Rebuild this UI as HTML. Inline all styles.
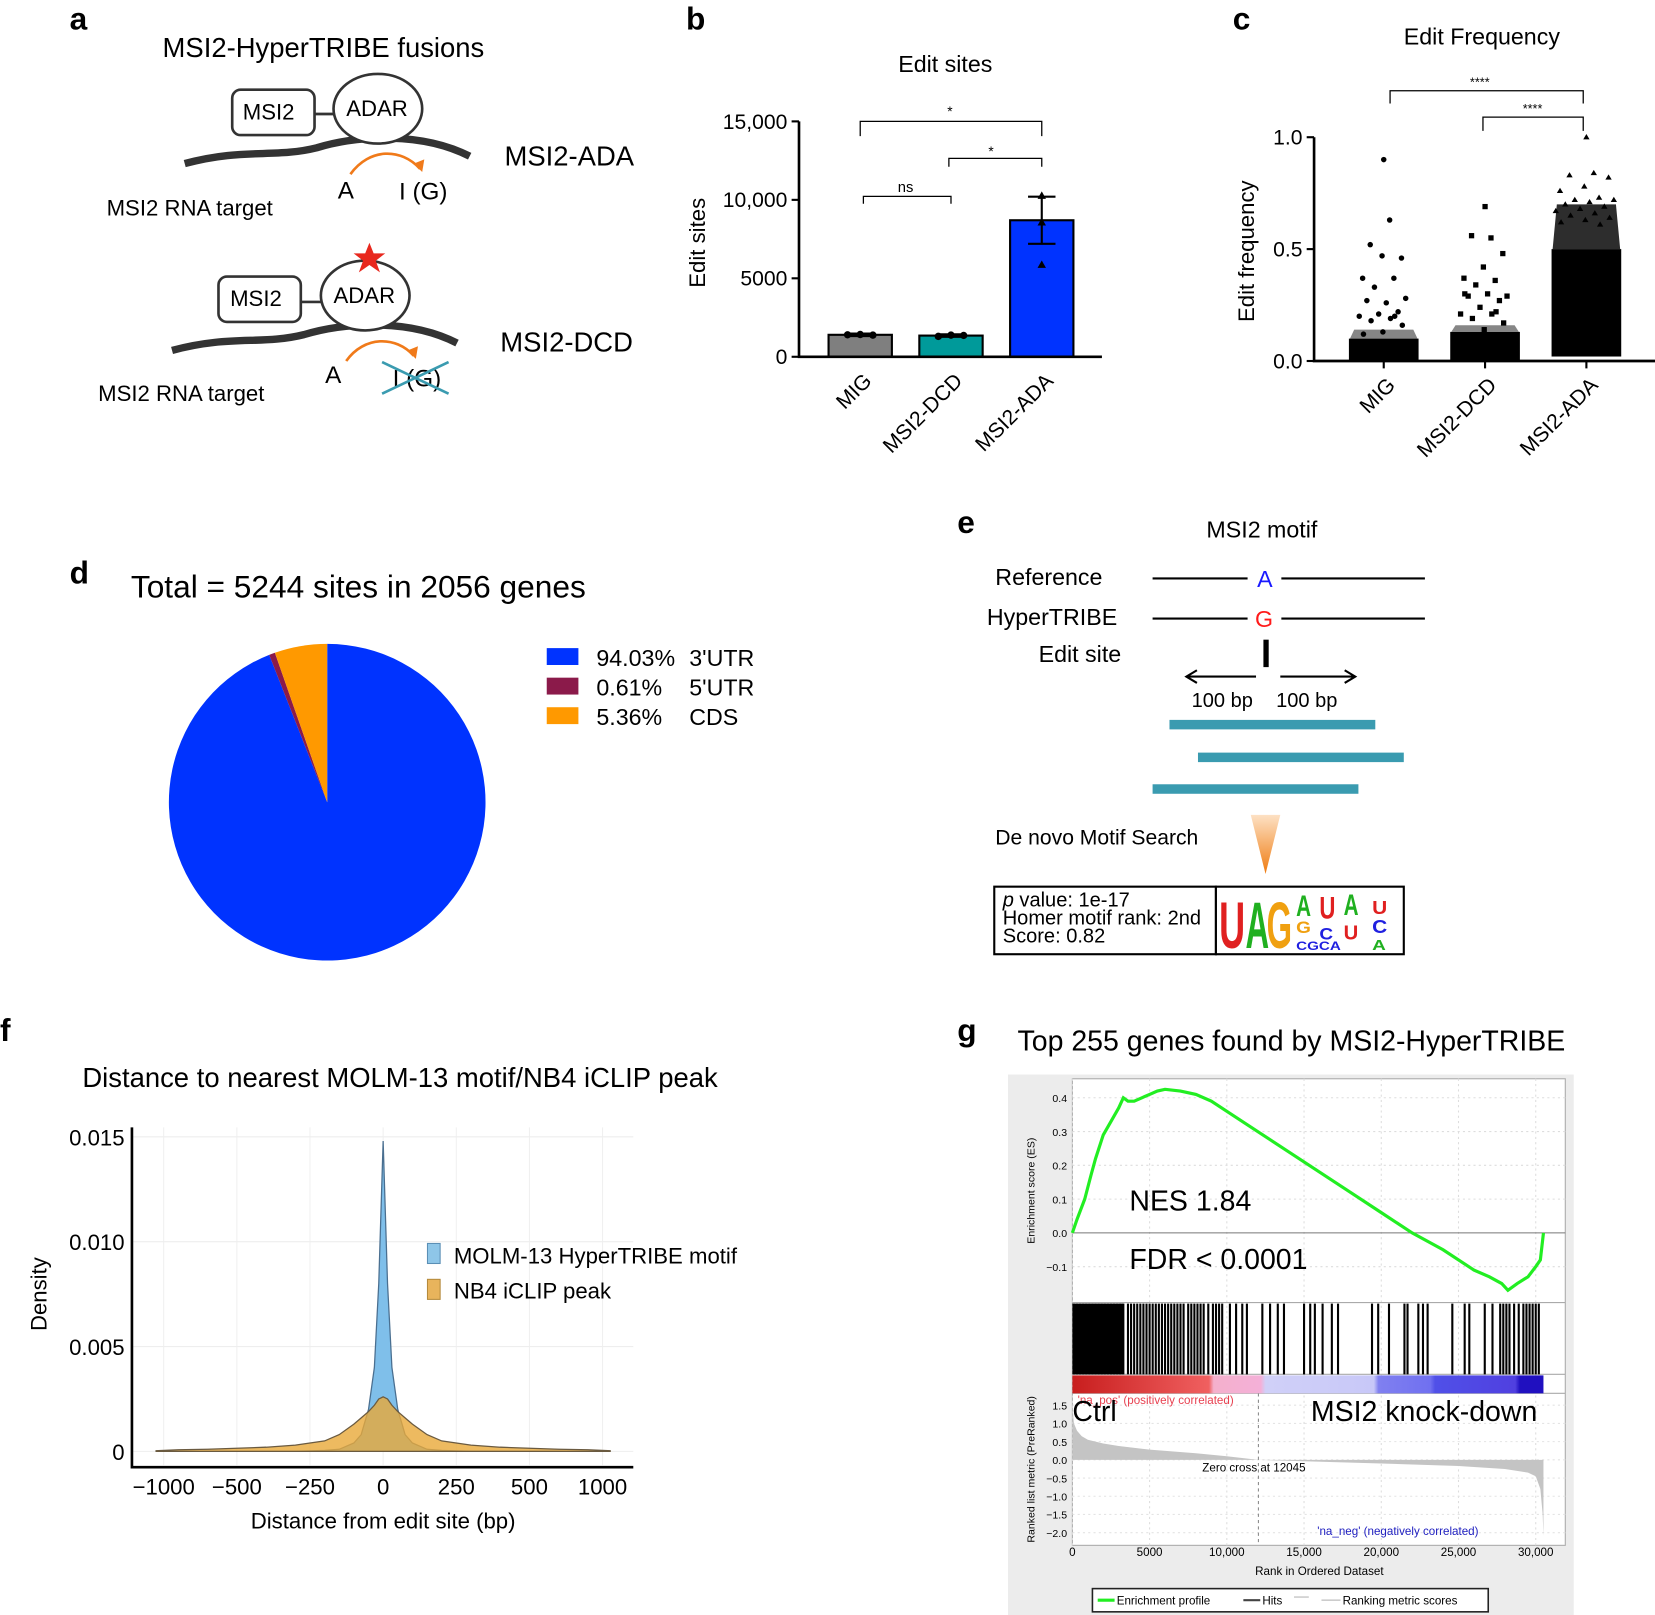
<!DOCTYPE html>
<html><head><meta charset="utf-8"><style>
html,body{margin:0;padding:0;background:#fff;}
svg{display:block;font-family:"Liberation Sans",Arial,sans-serif;}
</style></head><body>
<svg id="fig" width="1655" height="1615" viewBox="0 0 1568 1530" preserveAspectRatio="none" xmlns="http://www.w3.org/2000/svg">
<defs><linearGradient id="tri" x1="0" y1="0" x2="0" y2="1"><stop offset="0" stop-color="#fde1c4"/><stop offset="1" stop-color="#ef7b10"/></linearGradient></defs>
<g>
<text x="66" y="28" font-size="30" font-weight="bold">a</text>
<text x="154" y="54" font-size="26">MSI2-HyperTRIBE fusions</text>
<path d="M175 155 C230 140 260 150 300 140 C340 128 400 125 445 148" fill="none" stroke="#333" stroke-width="7"/>
<path d="M298 108 L318 108" stroke="#333" stroke-width="2.5"/>
<rect x="220" y="85" width="78" height="43" rx="8" fill="#fff" stroke="#333" stroke-width="2.5"/>
<text x="230" y="113" font-size="21">MSI2</text>
<ellipse cx="358" cy="103" rx="42" ry="33" fill="#fff" stroke="#333" stroke-width="2.5"/>
<text x="328" y="110" font-size="21">ADAR</text>
<path d="M332 165 C350 140 380 140 398 160" fill="none" stroke="#f07a1a" stroke-width="2.5"/>
<path d="M392 155 L400 163 L402 151 Z" fill="#f07a1a"/>
<text x="320" y="188" font-size="23">A</text>
<text x="378" y="189" font-size="23">I (G)</text>
<text x="101" y="204" font-size="21">MSI2 RNA target</text>
<text x="478" y="157" font-size="26">MSI2-ADA</text>
<path d="M163 332 C218 317 248 327 288 317 C328 305 388 302 433 325" fill="none" stroke="#333" stroke-width="7"/>
<path d="M286 286 L306 286" stroke="#333" stroke-width="2.5"/>
<rect x="207" y="262" width="78" height="43" rx="8" fill="#fff" stroke="#333" stroke-width="2.5"/>
<text x="218" y="290" font-size="21">MSI2</text>
<ellipse cx="346" cy="280" rx="42" ry="33" fill="#fff" stroke="#333" stroke-width="2.5"/>
<text x="316" y="287" font-size="21">ADAR</text>
<polygon points="350,230 354,240 365,240 356,247 360,258 350,251 340,258 344,247 335,240 346,240" fill="#e8281e"/>
<path d="M328 342 C345 318 375 318 392 337" fill="none" stroke="#f07a1a" stroke-width="2.5"/>
<path d="M386 332 L394 340 L396 328 Z" fill="#f07a1a"/>
<text x="308" y="363" font-size="23">A</text>
<text x="372" y="366" font-size="23">I (G)</text>
<path d="M362 343 L425 373 M362 373 L425 343" stroke="#3a9bb0" stroke-width="2.5"/>
<text x="93" y="380" font-size="21">MSI2 RNA target</text>
<text x="474" y="333" font-size="26">MSI2-DCD</text>
</g>
<g id="pb">
<text x="650" y="28" font-size="30" font-weight="bold">b</text>
<text x="851" y="68" font-size="22">Edit sites</text>
<text transform="translate(668,230) rotate(-90)" font-size="21" text-anchor="middle">Edit sites</text>
</g>
<g id="pc">
<text x="1168" y="28" font-size="30" font-weight="bold">c</text>
<text x="1330" y="42" font-size="22">Edit Frequency</text>
<text transform="translate(1188,238) rotate(-90)" font-size="21" text-anchor="middle">Edit frequency</text>
</g>
<g id="pd">
<text x="66" y="553" font-size="30" font-weight="bold">d</text>
<text x="124" y="566" font-size="30">Total = 5244 sites in 2056 genes</text>
</g>
<g>
<text x="907" y="505" font-size="30" font-weight="bold">e</text>
<text x="1143" y="509" font-size="22">MSI2 motif</text>
<text x="943" y="554" font-size="22">Reference</text>
<text x="935" y="592" font-size="22">HyperTRIBE</text>
<text x="984" y="627" font-size="22">Edit site</text>
<line x1="1092" y1="548" x2="1182" y2="548" stroke="#000" stroke-width="2"/>
<line x1="1214" y1="548" x2="1350" y2="548" stroke="#000" stroke-width="2"/>
<text x="1191" y="556" font-size="22" fill="#1a1aff">A</text>
<line x1="1092" y1="586" x2="1182" y2="586" stroke="#000" stroke-width="2"/>
<line x1="1214" y1="586" x2="1350" y2="586" stroke="#000" stroke-width="2"/>
<text x="1189" y="594" font-size="22" fill="#ff1a1a">G</text>
<rect x="1197" y="606" width="5" height="26" fill="#000"/>
<path d="M1190 641 L1125 641 M1134 635 L1124 641 L1134 647" stroke="#000" stroke-width="2" fill="none"/>
<path d="M1213 641 L1283 641 M1274 635 L1284 641 L1274 647" stroke="#000" stroke-width="2" fill="none"/>
<text x="1129" y="670" font-size="19">100 bp</text>
<text x="1209" y="670" font-size="19">100 bp</text>
<rect x="1108" y="682" width="195" height="9" fill="#3a9bb0"/>
<rect x="1135" y="713" width="195" height="9" fill="#3a9bb0"/>
<rect x="1092" y="743" width="195" height="9" fill="#3a9bb0"/>
<polygon points="1185,772 1213,772 1199,828" fill="url(#tri)"/>
<text x="943" y="800" font-size="20">De novo Motif Search</text>
<rect x="942" y="840" width="210" height="64" fill="#fff" stroke="#000" stroke-width="2"/>
<rect x="1152" y="840" width="178" height="64" fill="#fff" stroke="#000" stroke-width="2"/>
<text x="950" y="859" font-size="19"><tspan font-style="italic">p</tspan> value: 1e-17</text>
<text x="950" y="876" font-size="19">Homer motif rank: 2nd</text>
<text x="950" y="893" font-size="19">Score: 0.82</text>
<g font-weight="bold">
<text x="1155" y="898" font-size="62" fill="#e02020" transform="translate(1155,898) scale(0.55,1) translate(-1155,-898)">U</text>
<text x="1180" y="898" font-size="62" fill="#20b020" transform="translate(1180,898) scale(0.5,1) translate(-1180,-898)">A</text>
<text x="1200" y="898" font-size="62" fill="#f0a010" transform="translate(1200,898) scale(0.5,1) translate(-1200,-898)">G</text>
<text x="1228" y="868" font-size="28" fill="#20b020" transform="translate(1228,868) scale(0.7,1) translate(-1228,-868)">A</text>
<text x="1228" y="884" font-size="20" fill="#f0a010" transform="translate(1228,884) scale(0.9,0.8) translate(-1228,-884)">G</text>
<text x="1250" y="870" font-size="30" fill="#e02020" transform="translate(1250,870) scale(0.7,1) translate(-1250,-870)">U</text>
<text x="1250" y="890" font-size="20" fill="#2020e0" transform="translate(1250,890) scale(0.9,0.8) translate(-1250,-890)">C</text>
<text x="1273" y="867" font-size="28" fill="#20b020" transform="translate(1273,867) scale(0.7,1) translate(-1273,-867)">A</text>
<text x="1273" y="890" font-size="24" fill="#e02020" transform="translate(1273,890) scale(0.8,0.8) translate(-1273,-890)">U</text>
<text x="1300" y="866" font-size="22" fill="#e02020" transform="translate(1300,866) scale(0.9,0.8) translate(-1300,-866)">U</text>
<text x="1300" y="884" font-size="22" fill="#2020e0" transform="translate(1300,884) scale(0.9,0.8) translate(-1300,-884)">C</text>
<text x="1300" y="900" font-size="18" fill="#20b020" transform="translate(1300,900) scale(1,0.8) translate(-1300,-900)">A</text>
<text x="1228" y="900" font-size="16" fill="#2020e0" transform="translate(1228,900) scale(0.9,0.7) translate(-1228,-900)">CGCA</text>
</g>
</g>
<g id="pf">
<text x="0" y="986" font-size="30" font-weight="bold">f</text>
<text x="78" y="1030" font-size="26">Distance to nearest MOLM-13 motif/NB4 iCLIP peak</text>
<text transform="translate(44,1226) rotate(-90)" font-size="21" text-anchor="middle">Density</text>
<text x="363" y="1448" font-size="21" text-anchor="middle">Distance from edit site (bp)</text>
</g>
<g id="pg">
<text x="907" y="986" font-size="30" font-weight="bold">g</text>
<text x="964" y="995" font-size="27">Top 255 genes found by MSI2-HyperTRIBE</text>
<rect x="955" y="1018" width="536" height="512" fill="#ececec"/>
<rect x="1016" y="1022" width="467" height="442" fill="#fff" stroke="#aaa" stroke-width="1"/>
</g>
</svg>
<script>
var svg=document.getElementById('fig');var NS='http://www.w3.org/2000/svg';
function mk(parent,tag,attrs,text){var e=document.createElementNS(NS,tag);for(var k in attrs)e.setAttribute(k,attrs[k]);if(text!==undefined)e.textContent=text;parent.appendChild(e);return e;}

/* ---------- Panel b data ---------- */
var bCategories=['MIG','MSI2-DCD','MSI2-ADA'];
var bValues=[1400,1350,8700];
var bErr=[80,80,1500];
var bPoints=[[1400,1420,1380],[1300,1380,1360],[10200,8500,5800]];
var bColors=['#7f7f7f','#009a9a','#0033ff'];
var bTicks=[0,5000,10000,15000];
var bTickLabels=['0','5000','10,000','15,000'];
/* ---------- Panel c data ---------- */
var cCategories=['MIG','MSI2-DCD','MSI2-ADA'];
var cDenseTop=[0.1,0.13,0.5];
var cMidTop=[0.14,0.16,0.7];
var cDenseBottom=[0,0,0.02];
var cOutliers=[[0.9,0.63,0.52,0.46,0.47,0.37,0.37,0.33,0.28,0.26,0.27,0.22,0.21,0.2,0.19,0.18,0.16,0.13,0.12,0.2],
[0.69,0.55,0.56,0.48,0.42,0.37,0.36,0.34,0.29,0.3,0.29,0.27,0.24,0.21,0.21,0.19,0.17,0.14,0.3,0.22],
[1.0,0.84,0.83,0.82,0.78,0.76,0.73,0.72,0.72,0.71,0.7,0.69,0.68,0.67,0.66,0.65,0.64,0.63,0.62,0.61]];
var cTicks=[0,0.5,1.0];var cTickLabels=['0.0','0.5','1.0'];
/* ---------- Panel d data ---------- */
var dLabels=["3'UTR","5'UTR","CDS"];
var dValues=[94.03,0.61,5.36];
var dColors=['#0033ff','#8b1a4a','#ff9900'];
/* ---------- Panel f data ---------- */
var fX=[-776,-700,-600,-500,-400,-300,-200,-150,-100,-75,-50,-30,-15,0,15,30,50,75,100,150,200,300,400,500,600,700,776];
var fMolm=[0,0,0,0,0,0,0.00005,0.0001,0.0004,0.0008,0.002,0.004,0.008,0.0148,0.008,0.004,0.002,0.0008,0.0004,0.0001,0.00005,0,0,0,0,0,0];
var fNB4=[0.00003,0.00008,0.0001,0.00015,0.0002,0.0003,0.0005,0.0008,0.0013,0.0016,0.0019,0.0022,0.0025,0.0026,0.0025,0.0022,0.0019,0.0016,0.0013,0.0008,0.0005,0.0003,0.0002,0.00015,0.0001,0.00008,0.00003];
var fXTicks=[-750,-500,-250,0,250,500,750];
var fXTickLabels=['\u22121000','\u2212500','\u2212250','0','250','500','1000'];
var fYTicks=[0,0.005,0.010,0.015];var fYTickLabels=['0','0.005','0.010','0.015'];
/* ---------- Panel g data ---------- */
var gRank=[0,300,800,1200,1500,2000,2500,3000,3300,3600,4000,4500,5000,5500,6000,7000,8000,9000,10000,12000,14000,16000,18000,20000,22000,24000,26000,27000,27800,28200,28800,29500,30000,30300,30500];
var gES=[0,0.04,0.1,0.17,0.22,0.29,0.33,0.37,0.4,0.39,0.39,0.4,0.41,0.42,0.425,0.42,0.41,0.39,0.36,0.3,0.24,0.18,0.12,0.06,0.0,-0.05,-0.11,-0.13,-0.15,-0.17,-0.15,-0.13,-0.1,-0.08,0.0];
var gHits=[100,300,500,700,900,1100,1300,1500,1700,1900,2100,2300,2500,2700,2900,3100,3300,3600,3800,4000,4200,4400,4600,4800,5000,5200,5400,5600,5800,6000,6200,6400,6600,6800,7000,7200,7500,7700,7900,8100,8300,8500,8800,9100,9300,9500,9700,10200,10600,11000,11300,12300,12800,13300,13700,15000,15400,15700,16200,16800,17200,19400,19800,20500,21500,21700,22400,22700,23000,24600,25400,25700,26700,27200,27700,27900,28100,28300,28600,28900,29200,29400,29600,29800,30000,30200];
var gMetricRank=[0,100,300,600,1000,2000,3000,5000,8000,10000,12045,15000,20000,25000,28000,29500,30000,30300,30450,30500];
var gMetric=[1.5,1.0,0.8,0.65,0.55,0.45,0.38,0.28,0.18,0.1,0,-0.04,-0.1,-0.17,-0.25,-0.35,-0.45,-0.8,-1.5,-2.1];
var gESTicks=[-0.1,0,0.1,0.2,0.3,0.4];var gESTickLabels=['\u22120.1','0.0','0.1','0.2','0.3','0.4'];
var gMTicks=[1.5,1.0,0.5,0,-0.5,-1.0,-1.5,-2.0];var gMTickLabels=['1.5','1.0','0.5','0.0','\u22120.5','\u22121.0','\u22121.5','\u22122.0'];
var gXTicks=[0,5000,10000,15000,20000,25000,30000];var gXTickLabels=['0','5000','10,000','15,000','20,000','25,000','30,000'];

/* ===== draw b ===== */
(function(){var g=document.getElementById('pb');
function bx(i){return 815+i*86;}function by(v){return 338-v*(223/15000);}
for(var i=0;i<bTicks.length;i++){var y=by(bTicks[i]);
var t=mk(g,'line',{x1:750,y1:y,x2:757,y2:y,stroke:'#000','stroke-width':2});


var l=mk(g,'text',{x:746,y:y+7,'font-size':20,'text-anchor':'end'},bTickLabels[i]);

}
for(i=0;i<bValues.length;i++){var r=mk(g,'rect',{x:bx(i)-30,y:by(bValues[i]),width:60,height:338-by(bValues[i]),fill:bColors[i],stroke:'#000','stroke-width':2});


var e1=by(bValues[i]+bErr[i]),e2=by(bValues[i]-bErr[i]);
mk(g,'path',{d:'M'+bx(i)+' '+e1+' V'+e2+' M'+(bx(i)-13)+' '+e1+' h26 M'+(bx(i)-13)+' '+e2+' h26',stroke:'#000','stroke-width':2,fill:'none'});
for(var j=0;j<3;j++){var px=i<2?bx(i)-12+j*12:bx(i);var py=by(bPoints[i][j]);
if(i<2)mk(g,'circle',{cx:px,cy:py,r:3.5,fill:'#000'});else mk(g,'path',{d:'M'+px+' '+(py-5)+' l4 7 h-8z',fill:'#000'});}
var tl=mk(g,'text',{transform:'translate('+(bx(i)+12)+',362) rotate(-45)','font-size':20,'text-anchor':'end'},bCategories[i]);

}
mk(g,'path',{d:'M757 115 V338 H1044',stroke:'#000','stroke-width':2.5,fill:'none'});
mk(g,'path',{d:'M815 129 V115 H987 V129',stroke:'#000','stroke-width':1.2,fill:'none'});mk(g,'text',{x:900,y:110,'font-size':13,'text-anchor':'middle'},'*');
mk(g,'path',{d:'M899 158 V150 H987 V158',stroke:'#000','stroke-width':1.2,fill:'none'});mk(g,'text',{x:939,y:148,'font-size':13,'text-anchor':'middle'},'*');
mk(g,'path',{d:'M818 193 V186 H901 V193',stroke:'#000','stroke-width':1.2,fill:'none'});mk(g,'text',{x:858,y:182,'font-size':14,'text-anchor':'middle'},'ns');
})();

/* ===== draw c ===== */
(function(){var g=document.getElementById('pc');
function cx(i){return 1311+i*96;}function cy(v){return 342-v*212;}
for(var i=0;i<cTicks.length;i++){var y=cy(cTicks[i]);mk(g,'line',{x1:1238,y1:y,x2:1245,y2:y,stroke:'#000','stroke-width':2});
var l=mk(g,'text',{x:1234,y:y+7,'font-size':20,'text-anchor':'end'},cTickLabels[i]);

}
for(i=0;i<3;i++){var top=cy(cDenseTop[i]),bot=cy(cDenseBottom[i]);
var m=mk(g,'path',{d:'M'+(cx(i)-32)+' '+top+' L'+(cx(i)-28)+' '+cy(cMidTop[i])+' L'+(cx(i)+28)+' '+cy(cMidTop[i])+' L'+(cx(i)+32)+' '+top+'Z',fill:'#222',opacity:i===2?0.95:0.55});
var d=mk(g,'rect',{x:cx(i)-33,y:top,width:66,height:bot-top,fill:'#000'});


for(var j=0;j<cOutliers[i].length;j++){var off=((j*37)%60)-30;if(j===0)off=0;var py=cy(cOutliers[i][j]);var px=cx(i)+off*(i===2?1:0.8);
if(i===0)mk(g,'circle',{cx:px,cy:py,r:2.6,fill:'#000'});else if(i===1)mk(g,'rect',{x:px-2.5,y:py-2.5,width:5,height:5,fill:'#000'});else mk(g,'path',{d:'M'+px+' '+(py-3)+' l3 5 h-6z',fill:'#000'});}
var tl=mk(g,'text',{transform:'translate('+(cx(i)+12)+',366) rotate(-45)','font-size':20,'text-anchor':'end'},cCategories[i]);


mk(g,'line',{x1:cx(i),y1:342,x2:cx(i),y2:349,stroke:'#000','stroke-width':2});}
mk(g,'path',{d:'M1245 130 V342 H1568',stroke:'#000','stroke-width':2.5,fill:'none'});
mk(g,'path',{d:'M1317 98 V86 H1500 V98',stroke:'#000','stroke-width':1.2,fill:'none'});mk(g,'text',{x:1402,y:82,'font-size':12,'text-anchor':'middle'},'****');
mk(g,'path',{d:'M1405 124 V111 H1500 V124',stroke:'#000','stroke-width':1.2,fill:'none'});mk(g,'text',{x:1452,y:107,'font-size':12,'text-anchor':'middle'},'****');
})();

/* ===== draw d ===== */
(function(){var g=document.getElementById('pd');var cx=310,cy=760,R=150;var tot=0;for(var i=0;i<dValues.length;i++)tot+=dValues[i];
var a=-Math.PI/2;
for(i=0;i<dValues.length;i++){var a2=a+dValues[i]/tot*2*Math.PI;var large=(a2-a)>Math.PI?1:0;
var p=mk(g,'path',{d:'M'+cx+' '+cy+' L'+(cx+R*Math.cos(a))+' '+(cy+R*Math.sin(a))+' A'+R+' '+R+' 0 '+large+' 1 '+(cx+R*Math.cos(a2))+' '+(cy+R*Math.sin(a2))+' Z',fill:dColors[i]});


a=a2;
var ly=622+i*28;var lr=mk(g,'rect',{x:518,y:ly-8,width:30,height:16,fill:dColors[i]});


var lt=mk(g,'text',{x:565,y:ly+9,'font-size':22},dValues[i].toFixed(2)+'%');


var ln=mk(g,'text',{x:653,y:ly+9,'font-size':22},dLabels[i]);

}
})();

/* ===== draw f ===== */
(function(){var g=document.getElementById('pf');
function fx(v){return 363+v*0.2772;}function fy(v){return 1375-v*(298/0.015);}
for(var i=0;i<fXTicks.length;i++){mk(g,'line',{x1:fx(fXTicks[i]),y1:1068,x2:fx(fXTicks[i]),y2:1388,stroke:'#f0f0f0','stroke-width':1});}
for(i=0;i<fYTicks.length;i++){mk(g,'line',{x1:125,y1:fy(fYTicks[i]),x2:600,y2:fy(fYTicks[i]),stroke:'#eee','stroke-width':1});
var l=mk(g,'text',{x:118,y:fy(fYTicks[i])+8,'font-size':21,'text-anchor':'end'},fYTickLabels[i]);

}
function area(vals,fill,stroke,name,op){var d='M'+fx(fX[0])+' '+fy(0);for(var k=0;k<fX.length;k++)d+=' L'+fx(fX[k])+' '+fy(vals[k]);d+=' L'+fx(fX[fX.length-1])+' '+fy(0)+'Z';
var p=mk(g,'path',{d:d,fill:fill,stroke:stroke,'stroke-width':1.2,'fill-opacity':op});

}
area(fMolm,'#7fbfea','#4a6f90','density-molm13',1);area(fNB4,'#e8a938','#6a5a40','density-nb4',0.8);
mk(g,'path',{d:'M125 1068 V1390 H600',stroke:'#000','stroke-width':2.5,fill:'none'});
for(i=0;i<fXTicks.length;i++){var t=mk(g,'text',{x:fx(fXTicks[i]),y:1416,'font-size':21,'text-anchor':'middle'},fXTickLabels[i]);

}
var e1=mk(g,'rect',{x:405,y:1178,width:12,height:19,fill:'#8ec6e8',stroke:'#5a8fb5'});


var t1=mk(g,'text',{x:430,y:1197,'font-size':21},'MOLM-13 HyperTRIBE motif');


var e2=mk(g,'rect',{x:405,y:1212,width:12,height:19,fill:'#e8b45c',stroke:'#b58a3c'});


var t2=mk(g,'text',{x:430,y:1230,'font-size':21},'NB4 iCLIP peak');


})();

/* ===== draw g ===== */
(function(){var g=document.getElementById('pg');
function gx(r){return 1016+r*(439/30000);}function ey(v){return 1168-v*320;}function my(v){return 1383-v*34.5;}
for(var i=0;i<gXTicks.length;i++){mk(g,'line',{x1:gx(gXTicks[i]),y1:1022,x2:gx(gXTicks[i]),y2:1464,stroke:'#ddd','stroke-dasharray':'2,3'});
var t=mk(g,'text',{x:gx(gXTicks[i]),y:1474,'font-size':11,'text-anchor':'middle'},gXTickLabels[i]);

}
for(i=0;i<gESTicks.length;i++){var y=ey(gESTicks[i]);if(gESTicks[i]!==0)mk(g,'line',{x1:1016,y1:y,x2:1483,y2:y,stroke:'#ddd','stroke-dasharray':'2,3'});
var l=mk(g,'text',{x:1011,y:y+4,'font-size':10,'text-anchor':'end'},gESTickLabels[i]);

}
mk(g,'line',{x1:1016,y1:ey(0),x2:1483,y2:ey(0),stroke:'#777','stroke-width':1});
mk(g,'line',{x1:1016,y1:1234,x2:1483,y2:1234,stroke:'#aaa'});mk(g,'line',{x1:1016,y1:1302,x2:1483,y2:1302,stroke:'#aaa'});mk(g,'line',{x1:1016,y1:1320,x2:1483,y2:1320,stroke:'#aaa'});
var d='';for(i=0;i<gRank.length;i++)d+=(i?' L':'M')+gx(gRank[i])+' '+ey(gES[i]);
var es=mk(g,'path',{d:d,fill:'none',stroke:'#22ee22','stroke-width':3});


mk(g,'rect',{x:gx(0),y:1235,width:gx(3300)-gx(0),height:67,fill:'#000'});
for(i=0;i<gHits.length;i++){var h=mk(g,'line',{x1:gx(gHits[i]),y1:1235,x2:gx(gHits[i]),y2:1302,stroke:'#000','stroke-width':2});

}
var grad=mk(svg.querySelector('defs'),'linearGradient',{id:'cb',x1:0,y1:0,x2:1,y2:0});
var stops=[['0','#c81e1e'],['0.29','#f06060'],['0.3','#f4b0cc'],['0.4','#f4b0d8'],['0.41','#d0d0f8'],['0.64','#c8c8f8'],['0.65','#8080f0'],['0.76','#7070f0'],['0.77','#5050e8'],['0.94','#5040e0'],['0.95','#2010c0'],['1','#2010c0']];
for(i=0;i<stops.length;i++)mk(grad,'stop',{offset:stops[i][0],'stop-color':stops[i][1]});
var cb=mk(g,'rect',{x:gx(0),y:1303,width:gx(30500)-gx(0),height:17,fill:'url(#cb)'});


for(i=0;i<gMTicks.length;i++){var y2=my(gMTicks[i]);mk(g,'line',{x1:1016,y1:y2,x2:1483,y2:y2,stroke:'#e4e4e4','stroke-dasharray':'2,3'});
var ml=mk(g,'text',{x:1011,y:y2+4,'font-size':10,'text-anchor':'end'},gMTickLabels[i]);

}
var md='M'+gx(0)+' '+my(0);for(i=0;i<gMetricRank.length;i++)md+=' L'+gx(gMetricRank[i])+' '+my(gMetric[i]);md+=' L'+gx(30500)+' '+my(0)+'Z';
var ma=mk(g,'path',{d:md,fill:'#c4c4c4'});


mk(g,'line',{x1:gx(12045),y1:1320,x2:gx(12045),y2:1462,stroke:'#888','stroke-dasharray':'3,3'});
mk(g,'text',{x:1188,y:1394,'font-size':11,'text-anchor':'middle'},'Zero cross at 12045');
mk(g,'text',{x:1021,y:1330,'font-size':11,fill:'#e84050'},"'na_pos' (positively correlated)");
mk(g,'text',{x:1248,y:1454,'font-size':11,fill:'#2020c0'},"'na_neg' (negatively correlated)");
mk(g,'text',{x:1070,y:1147,'font-size':27},'NES 1.84');
mk(g,'text',{x:1070,y:1202,'font-size':27},'FDR < 0.0001');
mk(g,'text',{x:1016,y:1346,'font-size':27},'Ctrl');
mk(g,'text',{x:1242,y:1346,'font-size':27},'MSI2 knock-down');
mk(g,'text',{transform:'translate(980,1128) rotate(-90)','font-size':10,'text-anchor':'middle'},'Enrichment score (ES)');
mk(g,'text',{transform:'translate(980,1392) rotate(-90)','font-size':10,'text-anchor':'middle'},'Ranked list metric (PreRanked)');
mk(g,'text',{x:1250,y:1492,'font-size':11,'text-anchor':'middle'},'Rank in Ordered Dataset');
var lg=mk(g,'rect',{x:1035,y:1505,width:375,height:22,fill:'#fff',stroke:'#222','stroke-width':1.5});


mk(g,'line',{x1:1040,y1:1516,x2:1056,y2:1516,stroke:'#22ee22','stroke-width':3});mk(g,'text',{x:1058,y:1520,'font-size':11},'Enrichment profile');
mk(g,'line',{x1:1178,y1:1516,x2:1194,y2:1516,stroke:'#444','stroke-width':2});mk(g,'text',{x:1196,y:1520,'font-size':11},'Hits');
mk(g,'line',{x1:1226,y1:1513,x2:1240,y2:1513,stroke:'#ccc','stroke-width':1.5});mk(g,'line',{x1:1252,y1:1516,x2:1270,y2:1516,stroke:'#ccc','stroke-width':1.5});mk(g,'text',{x:1272,y:1520,'font-size':11},'Ranking metric scores');
})();
</script>
</body></html>
